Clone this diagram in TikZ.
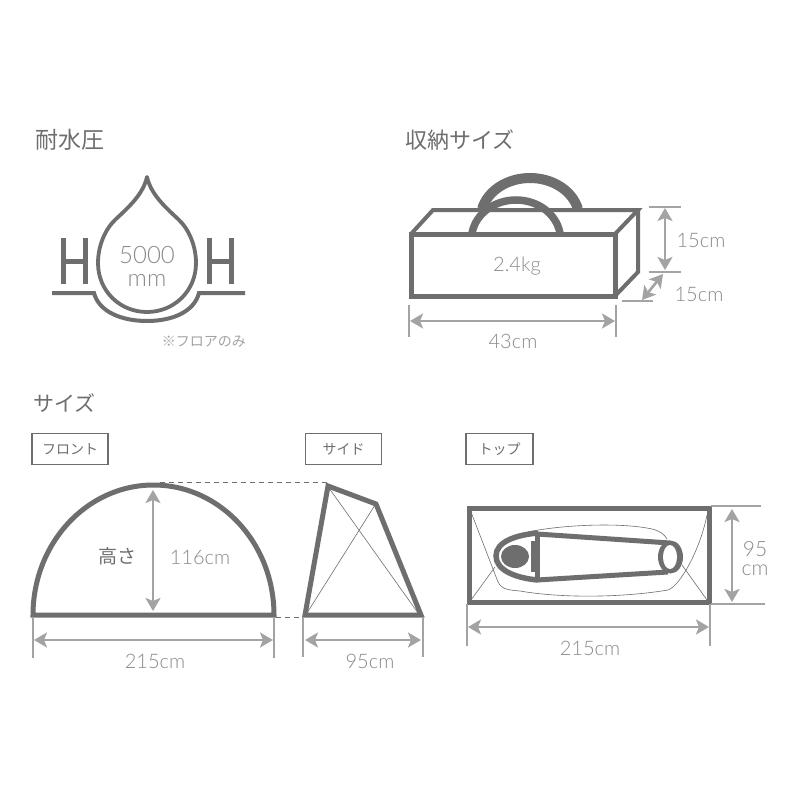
\documentclass[tikz,border=0pt]{standalone}
\usepackage{fontspec}
\setmainfont{Lato Light}
\newfontfamily\jpfont{Noto Sans CJK JP}
\usetikzlibrary{arrows.meta}
\definecolor{darkline}{HTML}{6E6E6E}
\definecolor{dimline}{HTML}{A3A3A3}
\definecolor{dimtext}{HTML}{8A8A8A}
\begin{document}
\begin{tikzpicture}[x=1pt,y=-1pt,
	outline/.style={draw=darkline,line width=5pt,line join=miter},
	thinline/.style={draw=darkline,line width=0.6pt},
	tick/.style={draw=dimline,line width=1.8pt},
	dimarrow/.style={draw=dimline,line width=2.6pt,{Stealth[length=13pt,width=15pt,inset=3pt]}-{Stealth[length=13pt,width=15pt,inset=3pt]}},
	title/.style={text=darkline,font=\jpfont\fontsize{#1}{23}\selectfont,inner sep=0},
	value/.style={text=dimtext,font=\fontsize{20}{20}\selectfont,inner sep=0},
	viewbox/.style={draw=darkline,line width=1.3pt,minimum width=76pt,minimum height=31pt,inner sep=0,text=darkline,font=\jpfont\fontsize{14}{14}\selectfont}]
\useasboundingbox[fill=white] (0,0) rectangle (800,800);

\node[title=23,anchor=west] (pressure) at (35,140) {耐水圧};
\draw[draw=darkline,line width=3.8pt,line join=round] (147,177)
	.. controls (143,194) and (130,206) .. (116,219)
	.. controls (105,229) and (98,246) .. (98,263)
	.. controls (98,291) and (120,312) .. (147,312)
	.. controls (174,312) and (196,291) .. (196,263)
	.. controls (196,246) and (189,229) .. (178,219)
	.. controls (164,206) and (151,194) .. (147,177) -- cycle;
\draw[draw=darkline,line width=4pt] (52,293) -- (94,293)
	.. controls (99,312) and (122,321) .. (147,321)
	.. controls (172,321) and (194,312) .. (199,293) -- (245,293);
\foreach \hx in {63.5,85.5,209.5,231.5}
	\draw[draw=darkline,line width=5pt] (\hx,238) -- (\hx,284);
\foreach \hx in {63.5,209.5}
	\draw[draw=darkline,line width=5pt] (\hx,261) -- (\hx+22,261);
\node[text=dimtext,font=\fontsize{24}{23}\selectfont,inner sep=0,align=center] (depth) at (147,266) {5000\\mm};
\node[text=dimline,font=\jpfont\fontsize{14}{14}\selectfont,inner sep=0,anchor=east] (note) at (246,342) {※フロアのみ};

\node[title=22,anchor=west] (storage) at (405,140) {収納サイズ};
\draw[draw=darkline,line width=10pt] (482,209) .. controls (488,190) and (508,178) .. (530,178)
	.. controls (552,178) and (572,190) .. (578,209);
\draw[draw=darkline,line width=7.5pt] (472,233) .. controls (476,213) and (495,200) .. (516,200)
	.. controls (537,200) and (556,213) .. (560,233);
\draw[outline,line width=4pt] (411,234) -- (433,210) -- (638,210) -- (615,234);
\draw[outline,line width=4pt] (638,210) -- (638,272) -- (615,296);
\draw[outline] (411,234) rectangle (615,296);
\node[value] (weight) at (517,266) {2.4kg};
\draw[tick] (649,207) -- (681,207);
\draw[tick] (649,272) -- (681,272);
\draw[dimarrow] (665,208) -- (665,270);
\node[value] (bagheight) at (701,240) {15cm};
\draw[tick] (622,301) -- (653,301);
\draw[dimarrow] (663,274) -- (642,300);
\node[value] (bagdepth) at (699,294) {15cm};
\draw[tick] (409,305) -- (409,337);
\draw[tick] (616,305) -- (616,337);
\draw[dimarrow] (410,321) -- (615,321);
\node[value] (baglength) at (513,341) {43cm};

\node[title=21,anchor=west] (size) at (33,403) {サイズ};
\node[viewbox] (front) at (70,449) {フロント};
\node[viewbox] (side) at (343.5,449) {サイド};
\node[viewbox,minimum width=67pt] (top) at (499.5,449) {トップ};

\draw[outline] (33,615) arc[start angle=180,end angle=360,x radius=120.5,y radius=130] -- cycle;
\draw[draw=darkline,line width=0.9pt,dash pattern=on 5pt off 4pt] (160,482) -- (327,482);
\draw[draw=darkline,line width=0.9pt,dash pattern=on 5pt off 4pt] (276,617) -- (302,617);
\draw[dimarrow] (153,490) -- (153,611);
\node[text=darkline,font=\jpfont\fontsize{19}{19}\selectfont,inner sep=0] (heightword) at (117,556) {高さ};
\node[value] (height) at (200,557) {116cm};
\draw[tick] (33,617) -- (33,658);
\draw[tick] (274,617) -- (274,658);
\draw[dimarrow] (34,640) -- (273,640);
\node[value] (frontwidth) at (155,661) {215cm};

\draw[outline] (328,486) -- (376,504) -- (421,615) -- (305,615) -- cycle;
\draw[thinline] (329,488) -- (418,613);
\draw[thinline] (375,505) -- (307,613);
\draw[tick] (303,617) -- (303,657);
\draw[tick] (423,617) -- (423,657);
\draw[dimarrow] (305,640) -- (421,640);
\node[value] (sidewidth) at (370,661) {95cm};

\draw[outline] (469,508) rectangle (709,602);
\draw[thinline] (471,512) -- (498,582) .. controls (502,590) and (510,590) .. (520,591)
	.. controls (560,598) and (620,598) .. (668,590) .. controls (680,586) and (700,550) .. (707,515);
\draw[thinline] (471,600) -- (495,567);
\draw[thinline] (528,532) .. controls (560,525) and (620,522) .. (652,529) .. controls (660,531) and (664,534) .. (667,539);
\draw[thinline] (682,565) -- (707,600);
\draw[draw=darkline,line width=5pt] (537,534) -- (670,543);
\draw[draw=darkline,line width=5pt] (537,580) -- (668,572);
\draw[draw=darkline,line width=5.5pt,fill=white] (538,533) .. controls (515,535) and (496,542) .. (496,556)
	.. controls (496,570) and (515,578) .. (538,580);
\draw[draw=darkline,line width=5pt] (537,533) -- (537,580);
\draw[draw=darkline,line width=4pt] (533,541) -- (533,572);
\draw[draw=none,fill=darkline] (515,556.5) ellipse[x radius=14,y radius=11.5];
\draw[draw=none,fill=darkline] (670.5,557) ellipse[x radius=12.5,y radius=16.5];
\draw[draw=none,fill=white] (670,557) ellipse[x radius=7,y radius=12];
\draw[tick] (711,506) -- (761,506);
\draw[tick] (711,604) -- (765,604);
\draw[dimarrow] (732,509) -- (732,602);
\node[value,align=center,font=\fontsize{21}{19}\selectfont] (topdepth) at (755,559) {95\\cm};
\draw[tick] (467,604) -- (467,646);
\draw[tick] (710,604) -- (710,646);
\draw[dimarrow] (468,627) -- (709,627);
\node[value] (topwidth) at (590,648) {215cm};
\end{tikzpicture}
\end{document}
